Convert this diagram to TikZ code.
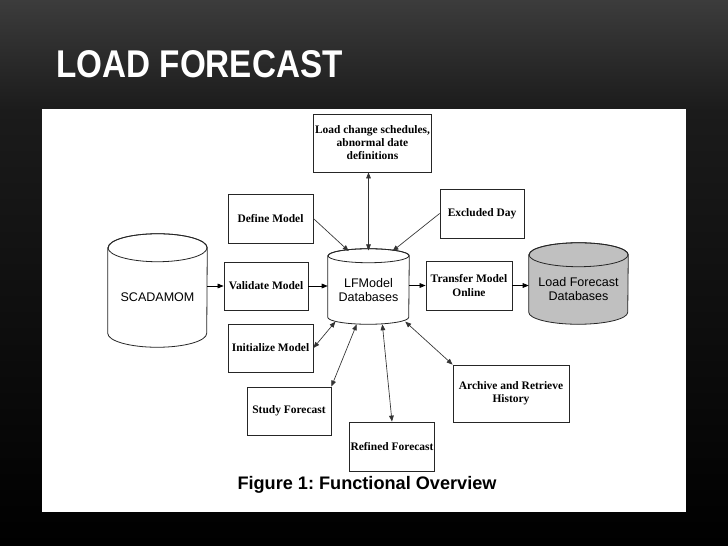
\documentclass[tikz,border=0pt]{standalone}
\usepackage{fontspec}
\setmainfont{Liberation Serif}
\newfontfamily\arialfont{Liberation Sans}
\usetikzlibrary{positioning,arrows.meta,backgrounds}
\definecolor{bgtop}{HTML}{3C3C3C}
\definecolor{bgmid}{HTML}{1B1B1B}
\definecolor{bgbot}{HTML}{000000}
\definecolor{dbgray}{HTML}{C0C0C0}
% database drum round a node: node, x radius, y radius of the ends, fill
\newcommand{\dbdraw}[4]{%
  \filldraw[dbline, fill=#4] (#1.north west) -- ([yshift=#3]#1.south west)
    arc[start angle=180, end angle=360, x radius=#2, y radius=#3]
    -- (#1.north east) arc[start angle=0, end angle=180, x radius=#2, y radius=#3] -- cycle;
  \draw[dbline] (#1.north) ellipse[x radius=#2, y radius=#3];
}

\begin{document}
\begin{tikzpicture}[
  x=0.75pt, y=-0.75pt,
  >={Triangle[length=4.5pt,width=3.5pt]},
  sz/.style 2 args={minimum width=#1*0.75pt, minimum height=#2*0.75pt},
  funcbox/.style={draw=black!85, line width=0.6pt, fill=white, align=center, inner sep=1pt,
                  font=\fontsize{8.6}{9.8}\selectfont\bfseries},
  dbase/.style={rectangle, align=center, inner sep=0pt, font=\arialfont\fontsize{9.4}{10.5}\selectfont},
  dbline/.style={draw=black!85, line width=0.6pt},
  flow/.style={->, line width=0.5pt, draw=black},
  both/.style={<->, line width=0.5pt, draw=black!80},
  feed/.style={->, line width=0.5pt, draw=black!80},
]
\useasboundingbox (0,0) rectangle (728,546);

% ---- slide background ----
\begin{scope}[on background layer]
  \shade[top color=bgtop, bottom color=bgmid] (0,0) rectangle (728,110);
  \shade[top color=bgmid, bottom color=bgbot] (0,110) rectangle (728,546);
  \fill[white] (42,109) rectangle (686,512);
\end{scope}

% ---- title ----
\node[anchor=base west, inner sep=0, text=white, font=\arialfont\bfseries\fontsize{29}{30}\selectfont]
      (title) at (56,77) {\scalebox{0.86}[1]{LOAD FORECAST}};

% ---- databases (body below the top ellipse) ----
\node[dbase, sz={99}{99}] (scada)   at (157.5,297.5) {SCADAMOM};
\node[dbase, sz={81}{68}] (lfmodel) at (368.5,290)   {LFModel\\Databases};
\node[dbase, sz={99}{69}] (lfdb)    at (578.5,289.5) {Load Forecast\\Databases};

\begin{scope}[on background layer]
  \dbdraw{scada}{37.125pt}{10.5pt}{white}
  \dbdraw{lfmodel}{30.375pt}{5.25pt}{white}
  \dbdraw{lfdb}{37.125pt}{9pt}{dbgray}
\end{scope}

% ---- functions ----
\node[funcbox, sz={117}{58}] (loadchg)  at (372.5,143)  {Load change schedules,\\abnormal date\\definitions};
\node[funcbox, sz={85}{49}]  (define)   at (270.5,218.5) {Define Model};
\node[funcbox, sz={84}{49}]  (excluded) at (482,213.5)  {Excluded Day};
\node[funcbox, sz={84}{48}]  (validate) at (266,286)    {Validate Model};
\node[funcbox, sz={86}{49}]  (transfer) at (469,285.5)  {Transfer Model\\Online};
\node[funcbox, sz={85}{48}]  (init)     at (270.5,348)  {Initialize Model};
\node[funcbox, sz={84}{48}]  (study)    at (289,411)    {Study Forecast};
\node[funcbox, sz={84}{49}]  (refined)  at (392,446.5)  {Refined Forecast};
\node[funcbox, sz={116}{57}] (archive)  at (511,393.5)  {Archive and Retrieve\\History};

% ---- caption ----
\node[anchor=base, inner sep=0, font=\arialfont\bfseries\fontsize{13.6}{15}\selectfont]
      (caption) at (367,489) {\frenchspacing Figure 1: Functional Overview};

% ---- main line ----
\draw[flow] (scada.east |- validate.west) -- (validate.west);
\draw[flow] (validate.east) -- (validate.east -| lfmodel.west);
\draw[flow] (lfmodel.east |- transfer.west) -- (transfer.west);
\draw[flow] (transfer.east) -- (transfer.east -| lfdb.west);

% ---- inputs to LFModel ----
\draw[both] (lfmodel.north |- loadchg.south) -- ([yshift=4pt]lfmodel.north);
\draw[feed] (define.east) -- ([yshift=3.5pt]lfmodel.120);
\draw[feed] (excluded.west) -- ([yshift=3.5pt]lfmodel.55);

% ---- two-way links below ----
\foreach \b/\a/\s in {init.east/226/2pt, study.north east/251/0pt, refined.north/292/0pt,
                      archive.north west/317/2pt}{
  \draw[both] ([yshift=\s]lfmodel.\a) -- (\b);
}
\end{tikzpicture}
\end{document}
